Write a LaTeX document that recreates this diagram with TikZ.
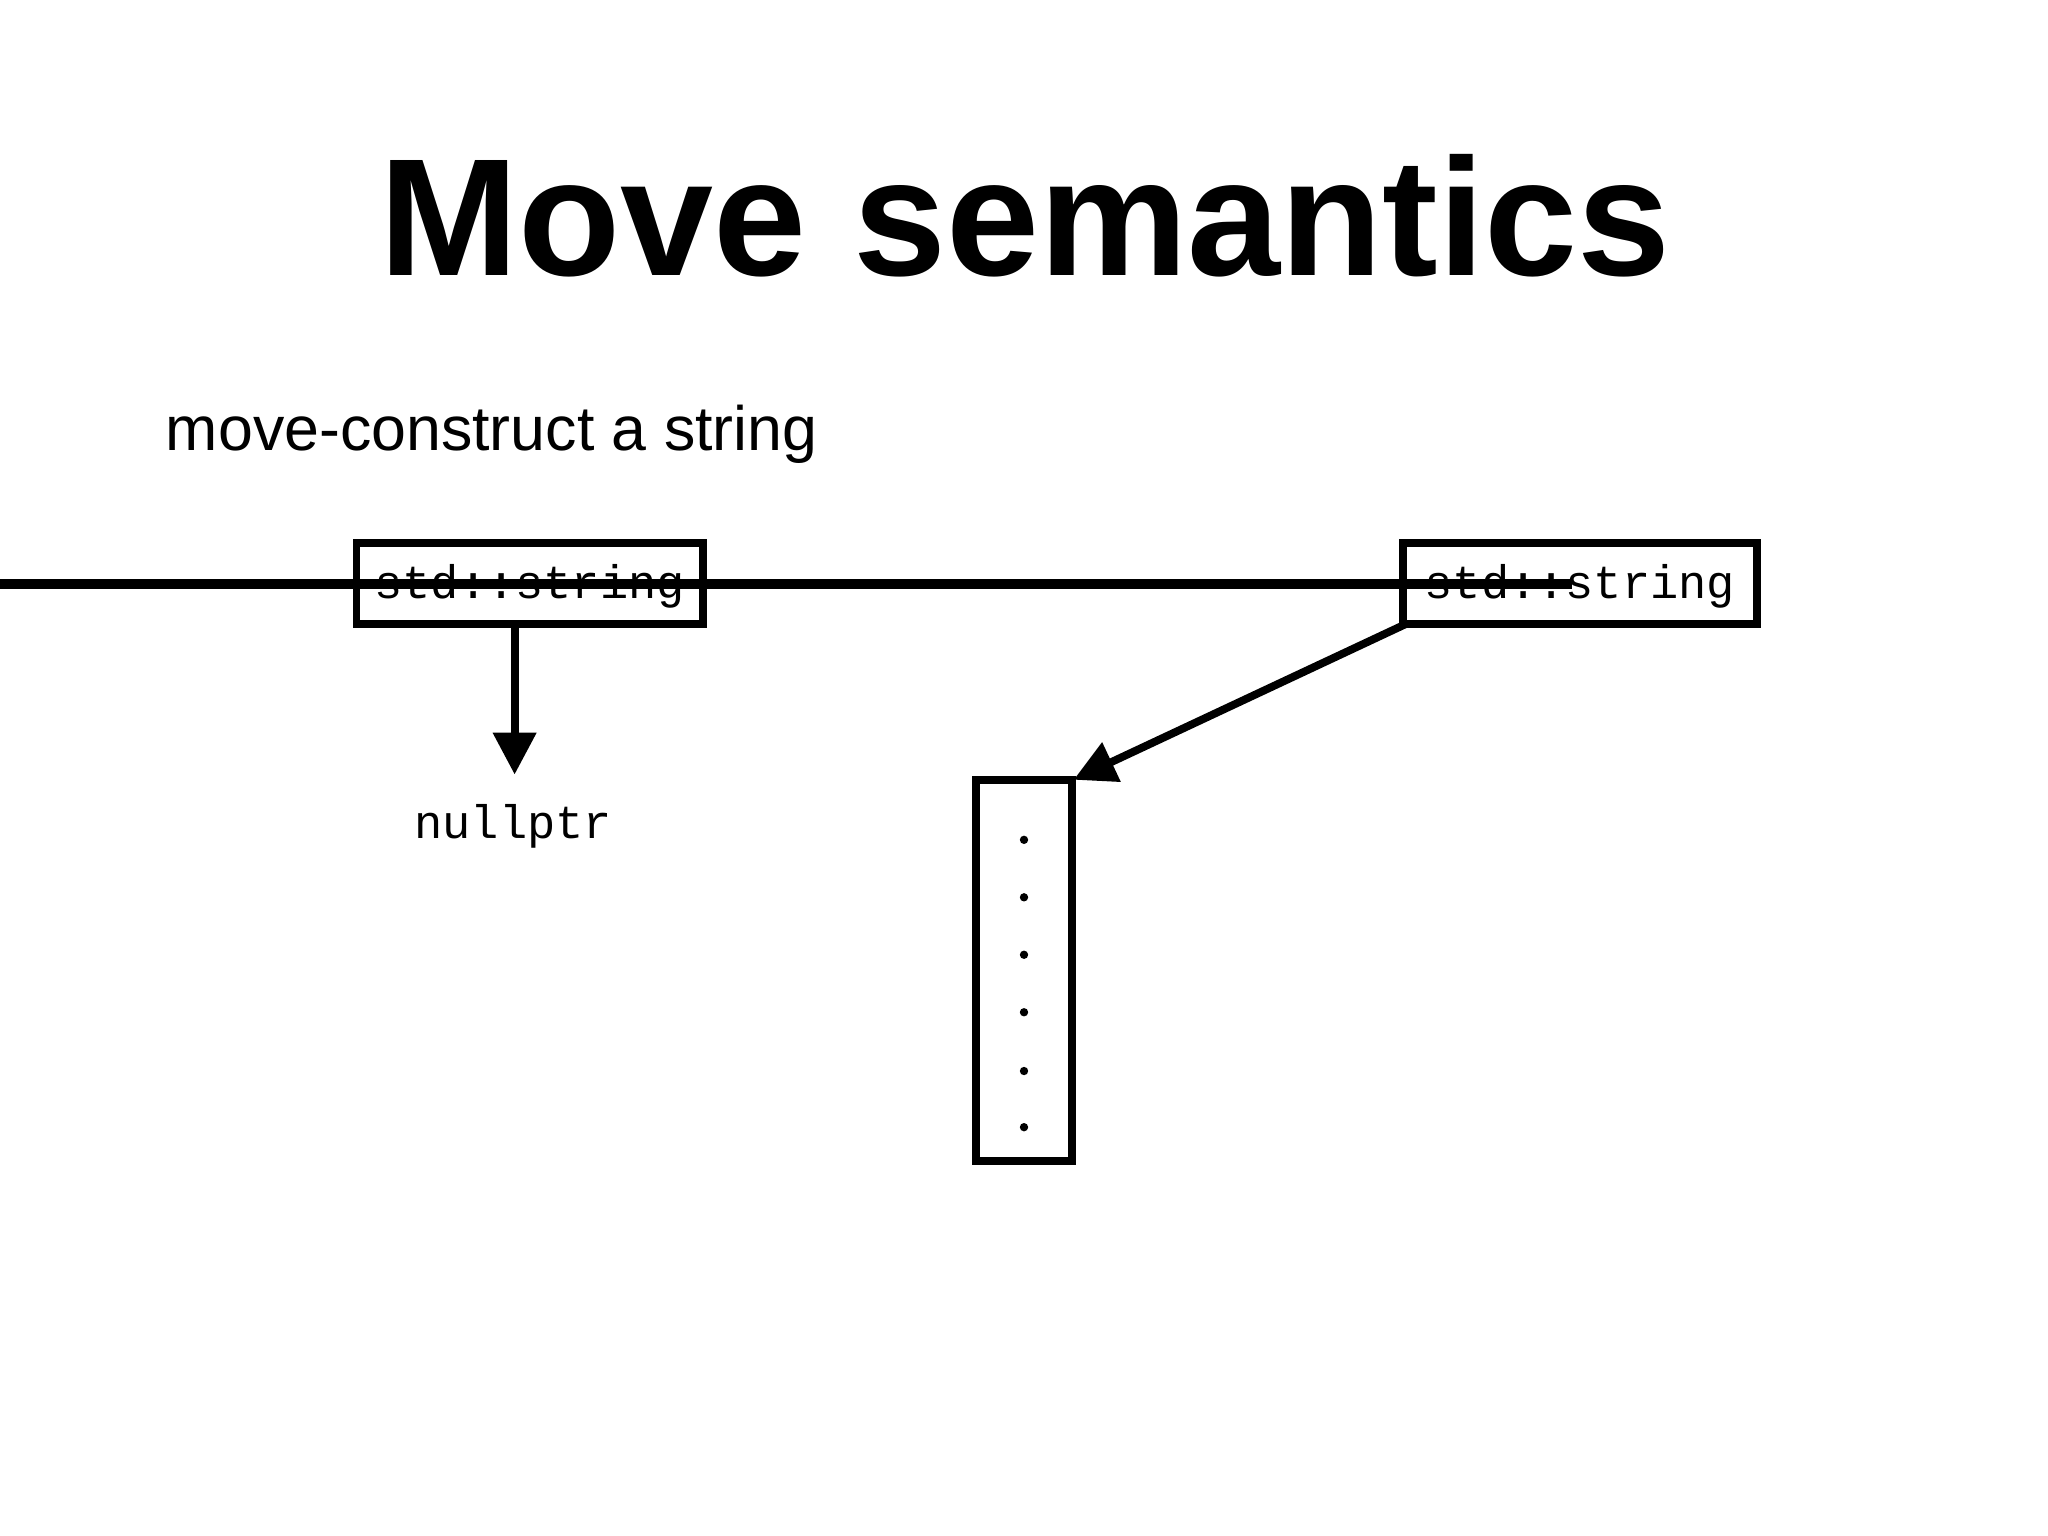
\documentclass[tikz,border=0pt]{standalone}
\usepackage{fontspec}
\setmainfont{Liberation Sans}
\newfontfamily\monof{Liberation Mono}
\usetikzlibrary{arrows.meta}
\begin{document}
\begin{tikzpicture}[x=0.5pt,y=-0.5pt,
  box/.style={draw,line width=3pt,inner sep=0pt},
  mono/.style={font=\monof\fontsize{18}{20}\selectfont},
  arr/.style={line width=3pt,-{Triangle[width=16pt,length=16pt]}}]
\useasboundingbox (0,0) rectangle (1568,1176);
\node (title) at (785,165) {\fontsize{64}{70}\selectfont\bfseries Move semantics};
\node[anchor=base west] (sub) at (120,345) {\fontsize{24}{28}\selectfont move-construct a string};
\node[box,minimum width=265\pgflinewidth,mono] (s1) at (405.5,447) {};
\draw[box] (273,416) rectangle (538,478);
\node[mono] (t1) at (405.5,449) {std::string};
\draw[box] (1074,416) rectangle (1345,478);
\node[mono] (t2) at (1209.5,449) {std::string};
\coordinate (a1) at (394,478);
\coordinate (a1e) at (394,593);
\draw[arr] (a1) -- (a1e);
\node[mono] (np) at (393,633) {nullptr};
\draw[box] (747,597) rectangle (821,889);
\coordinate (buf) at (822,597);
\coordinate (a2) at (1078,477);
\draw[arr] (a2) -- (buf);
\foreach \y in {643,687,731,775,820,863} \fill (784,\y) circle (3.2);
\end{tikzpicture}
\end{document}
